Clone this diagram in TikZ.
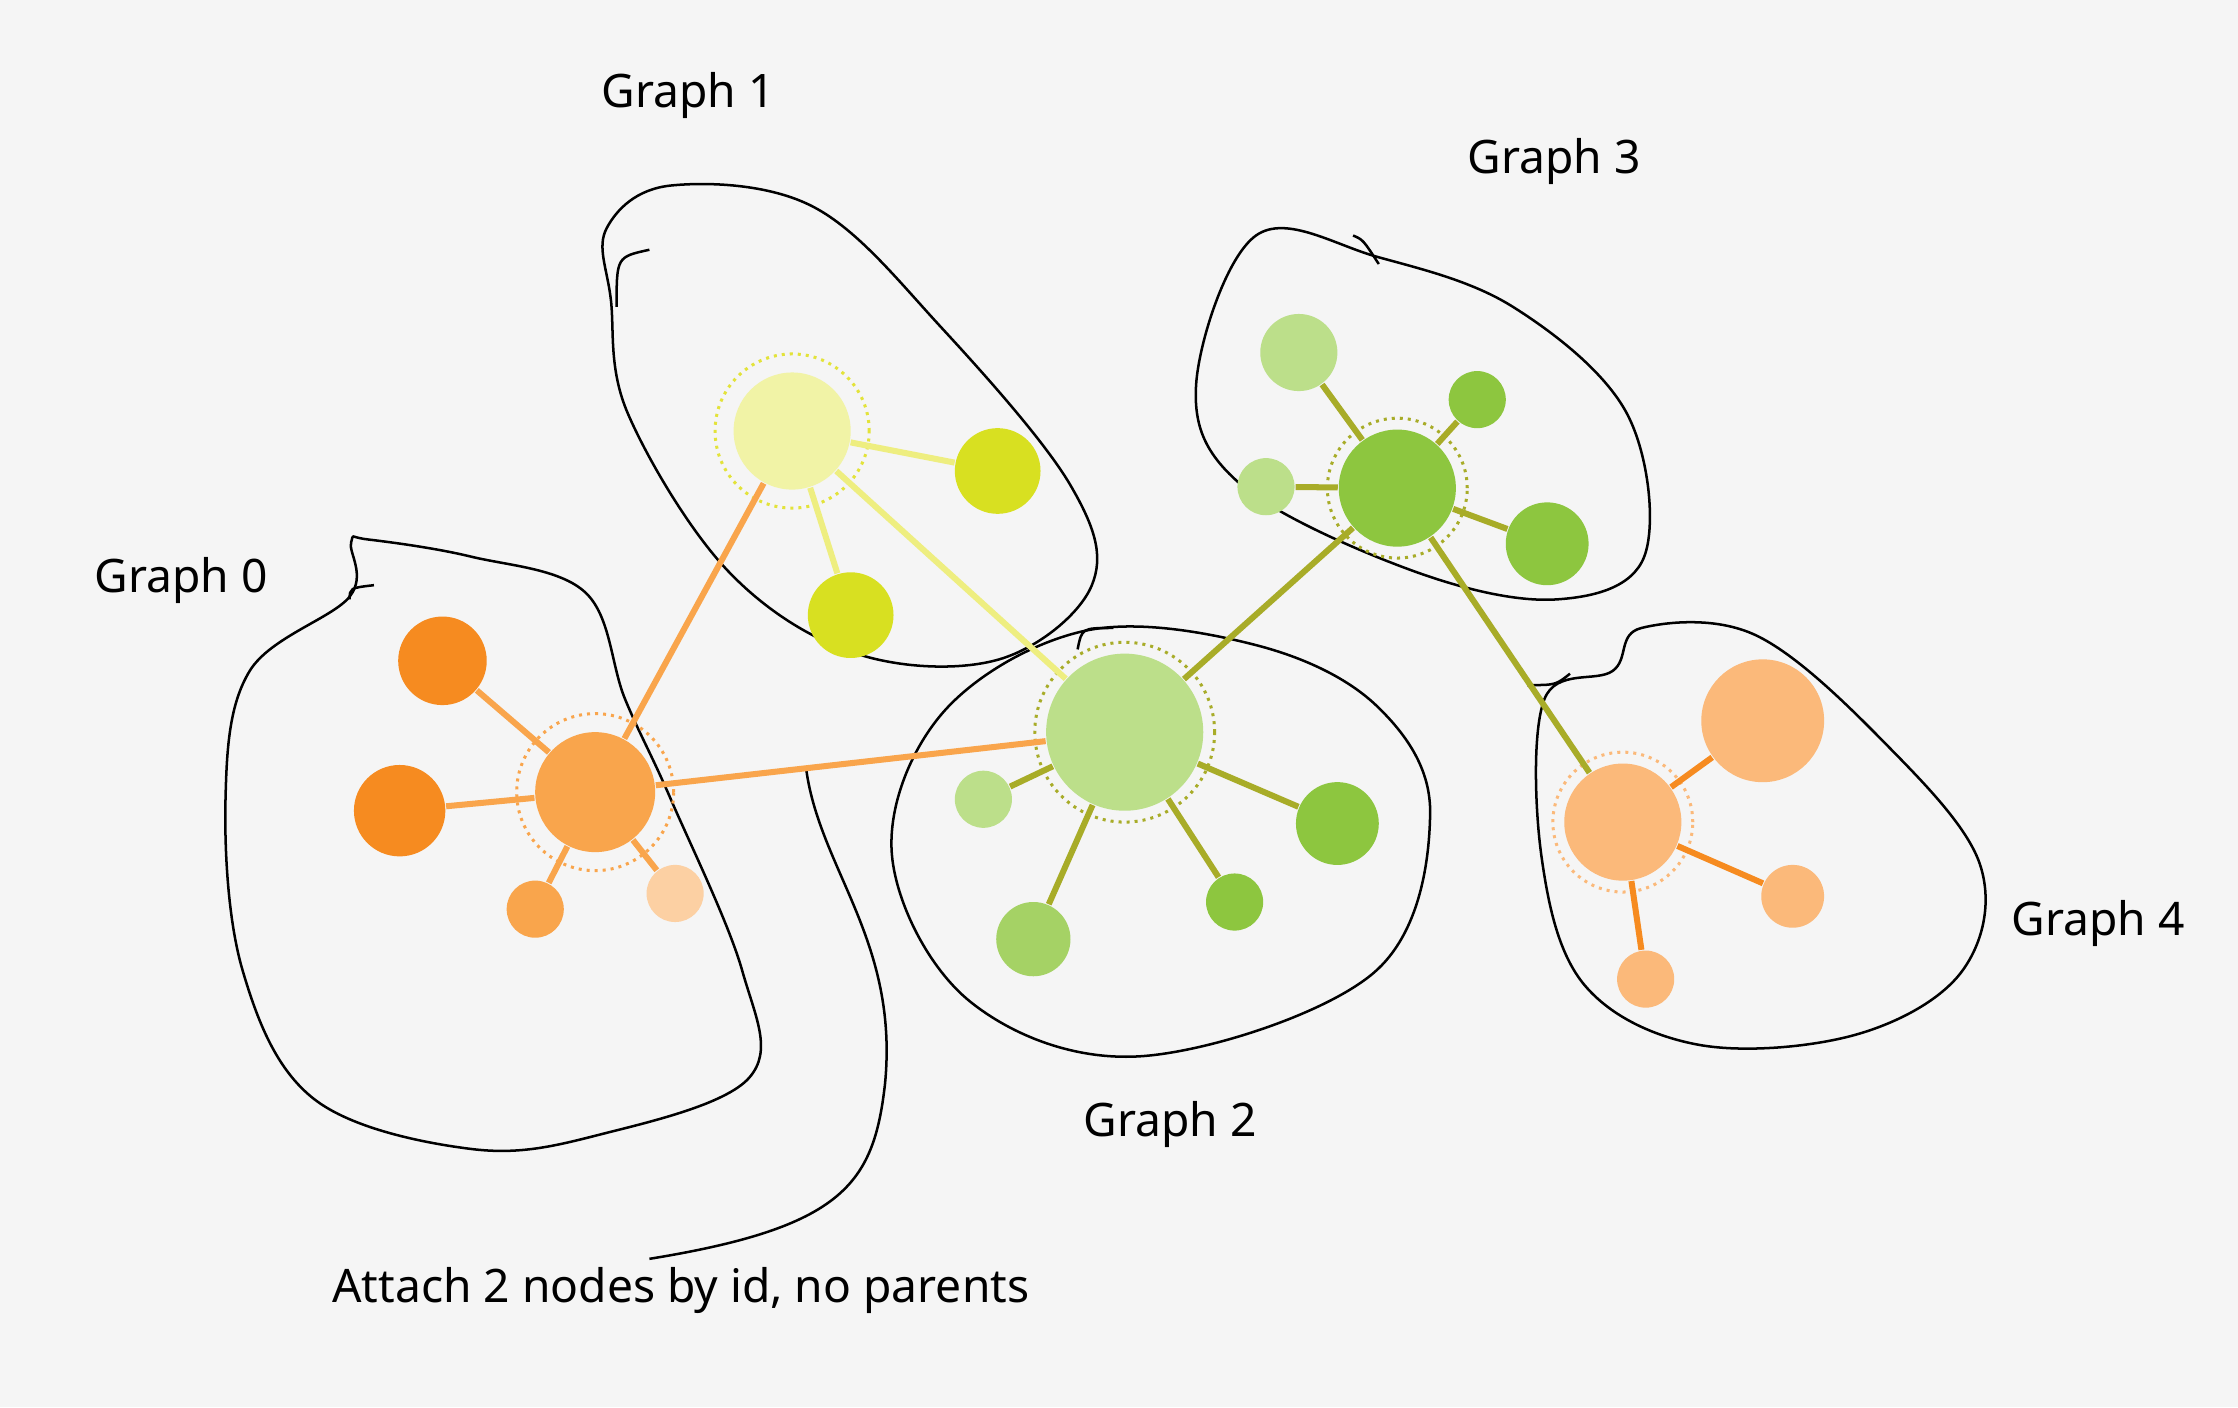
\documentclass[tikz,border=0pt]{standalone}
\usepackage{fontspec}
\setmainfont{Noto Sans}
\begin{document}
\begin{tikzpicture}[x=0.01cm,y=-0.01cm,
 lbl/.style={font=\fontsize{9.2}{11}\selectfont,inner sep=0},
 dot/.style={circle,inner sep=0,minimum size=#1*0.02cm},
 ring/.style={draw=#1,densely dotted,line width=0.6pt},
 blob/.style={draw=black,line width=0.5pt}]
\definecolor{o1}{HTML}{F68B20}\definecolor{o2}{HTML}{F9A54C}\definecolor{o3}{HTML}{FCD0A3}\definecolor{o4}{HTML}{FBB97A}
\definecolor{y1}{HTML}{F1F3A6}\definecolor{y2}{HTML}{D8E021}\definecolor{yl}{HTML}{EEEE80}\definecolor{yr}{HTML}{E3E33A}
\definecolor{g1}{HTML}{BCDF8A}\definecolor{g2}{HTML}{8DC63F}\definecolor{g3}{HTML}{A5D265}\definecolor{ol}{HTML}{A8AC28}
\definecolor{bg}{HTML}{F5F5F5}
\fill[bg] (0,0) rectangle (1568,986);
\useasboundingbox (0,0) rectangle (1568,986);
% blobs
\draw[blob] plot[smooth cycle,tension=0.6] coordinates{(258,378)(330,390)(410,415)(438,490)(470,560)(520,680)(525,755)(420,795)(330,805)(220,770)(170,680)(158,560)(175,470)(245,418)(246,380)};
\draw[blob] (262,410) .. controls (245,412) .. (245,420);
\draw[blob] plot[smooth cycle,tension=0.6] coordinates{(428,210)(425,160)(470,130)(570,145)(660,230)(750,340)(765,410)(700,462)(600,458)(510,400)(440,290)};
\draw[blob] (455,175) .. controls (432,180) .. (432,215);
\draw[blob] plot[smooth cycle,tension=0.6] coordinates{(760,442)(880,452)(965,495)(1002,570)(962,682)(800,740)(680,702)(625,600)(660,500)};
\draw[blob] (755,455) .. controls (758,440) .. (780,440);
\draw[blob] plot[smooth cycle,tension=0.6] coordinates{(880,165)(965,180)(1060,215)(1140,290)(1152,390)(1090,420)(990,400)(870,340)(838,270)};
\draw[blob] (948,165) .. controls (955,168) .. (966,185);
\draw[blob] plot[smooth cycle,tension=0.6] coordinates{(1150,440)(1230,445)(1320,520)(1387,605)(1375,680)(1300,725)(1190,732)(1110,690)(1080,600)(1082,490)(1130,470)};
\draw[blob] (1070,480) .. controls (1090,480) .. (1100,472);
\draw[blob] (565,540) .. controls (575,610) and (630,660) .. (620,760) .. controls (612,830) and (590,860) .. (455,882);
% nodes
\node[dot=42,fill=o2] (c0) at (417,555) {};
\draw[ring=o2] (c0) circle[radius=55*0.01cm];
\node[dot=31,fill=o1] (a0) at (310,463) {};
\node[dot=32,fill=o1] (b0) at (280,568) {};
\node[dot=20,fill=o2] (d0) at (375,637) {};
\node[dot=20,fill=o3] (e0) at (473,626) {};
\node[dot=41,fill=y1] (c1) at (555,302) {};
\draw[ring=yr] (c1) circle[radius=54*0.01cm];
\node[dot=30,fill=y2] (a1) at (699,330) {};
\node[dot=30,fill=y2] (b1) at (596,431) {};
\node[dot=55,fill=g1] (c2) at (788,513) {};
\draw[ring=ol] (c2) circle[radius=63*0.01cm];
\node[dot=20,fill=g1] (a2) at (689,560) {};
\node[dot=26,fill=g3] (b2) at (724,658) {};
\node[dot=20,fill=g2] (d2) at (865,632) {};
\node[dot=29,fill=g2] (e2) at (937,577) {};
\node[dot=41,fill=g2] (c3) at (979,342) {};
\draw[ring=ol] (c3) circle[radius=49*0.01cm];
\node[dot=27,fill=g1] (a3) at (910,247) {};
\node[dot=20,fill=g2] (b3) at (1035,280) {};
\node[dot=20,fill=g1] (d3) at (887,341) {};
\node[dot=29,fill=g2] (e3) at (1084,381) {};
\node[dot=41,fill=o4] (c4) at (1137,576) {};
\draw[ring=o4] (c4) circle[radius=49*0.01cm];
\node[dot=43,fill=o4] (a4) at (1235,505) {};
\node[dot=22,fill=o4] (b4) at (1256,628) {};
\node[dot=20,fill=o4] (d4) at (1153,686) {};
% edges
\begin{scope}[line width=1.2pt]
\foreach \n in {a0,b0,d0,e0} \draw[o2] (c0) -- (\n);
\draw[o2] (c0) -- (c1); \draw[o2] (c0) -- (c2);
\foreach \n in {a1,b1} \draw[yl] (c1) -- (\n);
\draw[yl] (c1) -- (c2);
\foreach \n in {a2,b2,d2,e2} \draw[ol] (c2) -- (\n);
\draw[ol] (c2) -- (c3); \draw[ol] (c3) -- (c4);
\foreach \n in {a3,b3,d3,e3} \draw[ol] (c3) -- (\n);
\foreach \n in {a4,b4,d4} \draw[o1] (c4) -- (\n);
\end{scope}
% labels
\node[lbl] (l0) at (127,407) {Graph 0};
\node[lbl] (l1) at (482,67) {Graph 1};
\node[lbl] (l2) at (820,788) {Graph 2};
\node[lbl] (l3) at (1089,113) {Graph 3};
\node[lbl] (l4) at (1470,647) {Graph 4};
\node[lbl] (l5) at (477,904) {Attach 2 nodes by id, no parents};
\end{tikzpicture}
\end{document}
